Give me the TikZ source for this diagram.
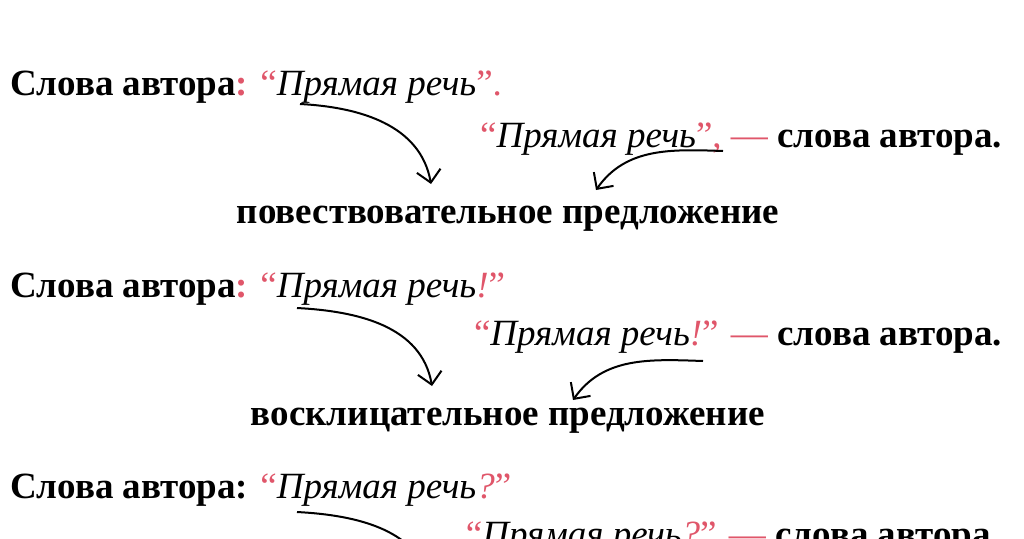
\documentclass[tikz,border=0pt]{standalone}
\usepackage{fontspec}
\setmainfont{Liberation Serif}
\usepackage{xcolor}
\usetikzlibrary{arrows.meta}
\definecolor{punct}{HTML}{E0566A}
\newcommand{\kr}[1]{\textcolor{punct}{#1}}

\begin{document}
\begin{tikzpicture}[x=1pt, y=1pt,
    txt/.style={inner sep=0pt, font=\fontsize{37}{44}\selectfont},
    arr/.style={line width=2pt, -{Straight Barb[length=12pt, width=24pt, line width=2pt]}}]
            \clip (0, 0) rectangle (1024, -538);
            \fill[white] (0, 0) rectangle (1024, -538);

            \node[txt, anchor=base west] (a1) at (10, -95) {\textbf{Слова автора}\kr{\textbf{:}} \kr{“}\textit{Прямая речь}\kr{”.}};
            \node[txt, anchor=base east] (b1) at (1002, -147) {\kr{“}\textit{Прямая речь}\kr{”, —} \textbf{слова автора.}};
            \node[txt, anchor=base] (c1) at (508, -223) {\textbf{повествовательное предложение}};
            \coordinate (s1) at (300, -104);
            \coordinate (e1) at (431, -184);
            \coordinate (s2) at (723, -151);
            \coordinate (e2) at (596, -190);
            \draw[arr] (s1) to[out=-3, in=100] (e1);
            \draw[arr] (s2) to[out=178, in=55] (e2);

            \node[txt, anchor=base west] (a2) at (10, -297) {\textbf{Слова автора}\kr{\textbf{:}} \kr{“}\textit{Прямая речь\kr{!}}\kr{”}};
            \node[txt, anchor=base east] (b2) at (1002, -345) {\kr{“}\textit{Прямая речь\kr{!}}\kr{” —} \textbf{слова автора.}};
            \node[txt, anchor=base] (c2) at (508, -425) {\textbf{восклицательное предложение}};
            \coordinate (s3) at (297, -308);
            \coordinate (e3) at (432, -386);
            \coordinate (s4) at (703, -361);
            \coordinate (e4) at (573, -400);
            \draw[arr] (s3) to[out=-3, in=100] (e3);
            \draw[arr] (s4) to[out=178, in=55] (e4);

            \node[txt, anchor=base west] (a3) at (10, -498) {\textbf{Слова автора:} \kr{“}\textit{Прямая речь\kr{?}}\kr{”}};
            \node[txt, anchor=base east] (b3) at (1000, -546) {\kr{“}\textit{Прямая речь\kr{?}}\kr{” —} \textbf{слова автора.}};
            \coordinate (s5) at (297, -512);
            \coordinate (e5) at (432, -590);
            \draw[arr] (s5) to[out=-3, in=100] (e5);
        \end{tikzpicture}
\end{document}
